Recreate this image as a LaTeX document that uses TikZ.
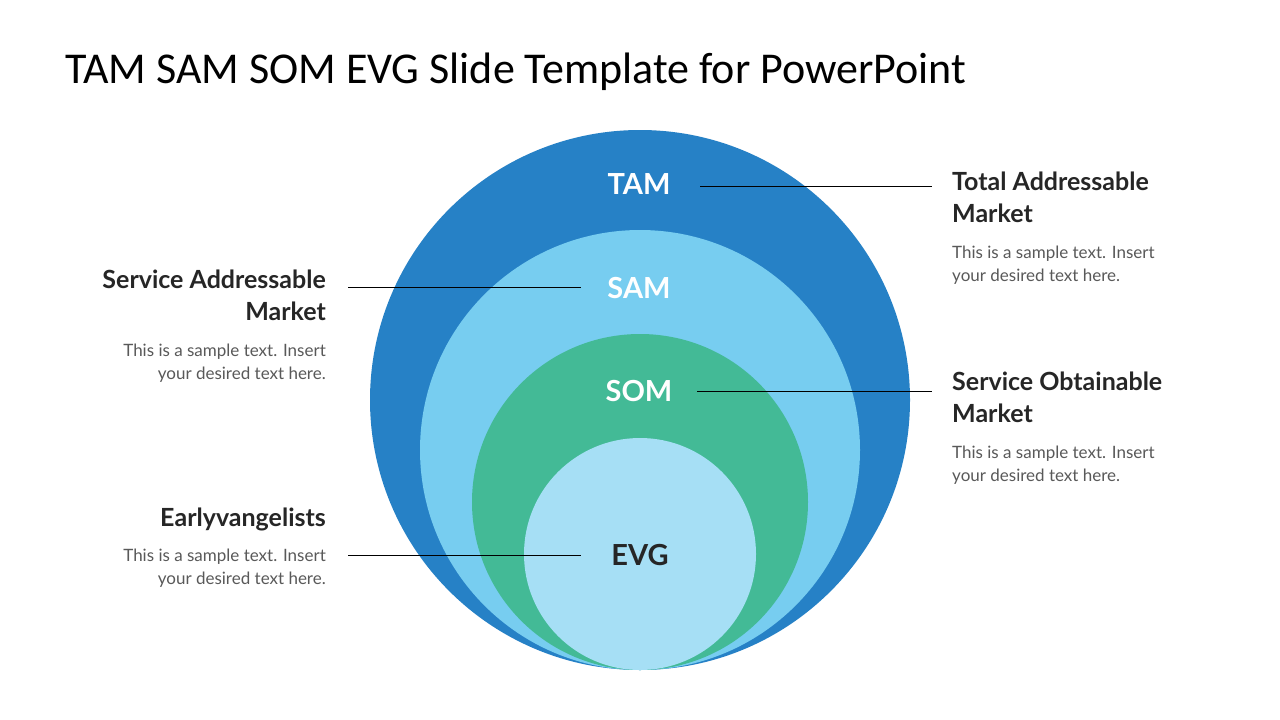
\documentclass[tikz,border=0pt]{standalone}
\usepackage{fontspec}
\setmainfont{Carlito}
\newfontfamily\bodyf{Lato}
\definecolor{tamc}{HTML}{2681C6}
\definecolor{samc}{HTML}{77CDF0}
\definecolor{somc}{HTML}{43BA96}
\definecolor{evgc}{HTML}{A6DFF5}
\definecolor{dark}{HTML}{262626}
\definecolor{gray1}{HTML}{595959}
\tikzset{
  circlab/.style={font=\bodyf\fontsize{29}{32}\selectfont\bfseries, text=white, inner sep=0},
  lead/.style={draw=black, line width=0.8pt},
  headR/.style={font=\bodyf\fontsize{25}{32}\selectfont\bfseries, text=dark, align=left, anchor=north west, inner sep=0},
  headL/.style={font=\bodyf\fontsize{25}{32}\selectfont\bfseries, text=dark, align=right, anchor=north east, inner sep=0},
  bodyR/.style={font=\bodyf\fontsize{17}{23}\selectfont, text=gray1, align=left, anchor=north west, inner sep=0},
  bodyL/.style={font=\bodyf\fontsize{17}{23}\selectfont, text=gray1, align=right, anchor=north east, inner sep=0}
}
\begin{document}
\begin{tikzpicture}[x=1pt,y=-1pt]
\useasboundingbox (0,0) rectangle (1280,720);
\fill[white] (0,0) rectangle (1280,720);
\node[anchor=base west, inner sep=0, font=\fontsize{44}{50}\selectfont] (title) at (65,83) {TAM SAM SOM EVG Slide Template for PowerPoint};
\fill[tamc] (640,400) circle (270);
\fill[samc] (640,450) circle (220);
\fill[somc] (640,502) circle (168);
\fill[evgc] (640,554) circle (116);
\node[circlab] (tam) at (639,184) {TAM};
\node[circlab] (sam) at (639,288) {SAM};
\node[circlab] (som) at (639,391) {SOM};
\node[circlab, text=dark] (evg) at (640,555) {EVG};
\coordinate (t1) at (700,186); \coordinate (t2) at (932,186);
\coordinate (s1) at (348,287); \coordinate (s2) at (581,287);
\coordinate (o1) at (697,391); \coordinate (o2) at (932,391);
\coordinate (e1) at (348,555); \coordinate (e2) at (581,555);
\draw[lead] (t1) -- (t2);
\draw[lead] (s1) -- (s2);
\draw[lead] (o1) -- (o2);
\draw[lead] (e1) -- (e2);
\node[headR] (h1) at (952,172) {Total Addressable\\Market};
\node[bodyR] (b1) at (952,246) {This is a sample text. Insert\\your desired text here.};
\node[headL] (h2) at (326,270) {Service Addressable\\Market};
\node[bodyL] (b2) at (326,344) {This is a sample text. Insert\\your desired text here.};
\node[headR] (h3) at (952,372) {Service Obtainable\\Market};
\node[bodyR] (b3) at (952,446) {This is a sample text. Insert\\your desired text here.};
\node[headL] (h4) at (326,508) {Earlyvangelists};
\node[bodyL] (b4) at (326,549) {This is a sample text. Insert\\your desired text here.};
\end{tikzpicture}
\end{document}
